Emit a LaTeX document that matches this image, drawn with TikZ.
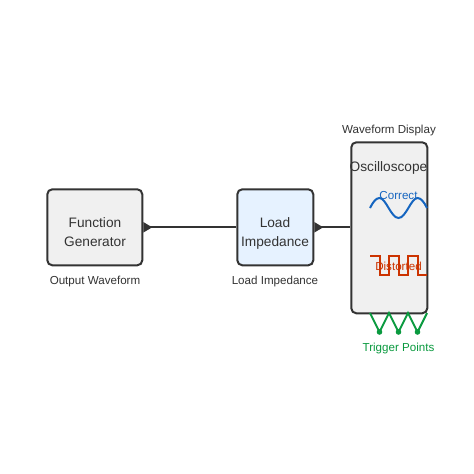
\documentclass[tikz,border=0pt]{standalone}
\usepackage{fontspec}
\setmainfont{Liberation Sans}
\usetikzlibrary{arrows.meta}
\definecolor{ink}{HTML}{333333}
\definecolor{boxgray}{HTML}{F0F0F0}
\definecolor{boxblue}{HTML}{E6F2FF}
\definecolor{wblue}{HTML}{1565C0}
\definecolor{wred}{HTML}{CC3300}
\definecolor{wgreen}{HTML}{0A9A3F}
\tikzset{
  block/.style={draw=ink,line width=2pt,rounded corners=5pt,fill=boxgray,inner sep=0pt,anchor=north west},
  maintext/.style={font=\fontsize{13.7}{18.5}\selectfont,text=ink,align=center,inner sep=0pt},
  caption/.style={font=\fontsize{11.6}{14}\selectfont,text=ink,inner sep=0pt},
  link/.style={draw=ink,line width=2pt,{Triangle[reversed,length=9pt,width=10pt]}-},
  wave/.style={line width=2pt,line join=miter}
}
\begin{document}
\begin{tikzpicture}[x=1pt,y=-1pt]
\useasboundingbox (0,0) rectangle (474,474);
\fill[white] (0,0) rectangle (474,474);
\node[block,minimum width=95pt,minimum height=76pt] (fg) at (46.3,188.3) {};
\node[block,fill=boxblue,minimum width=76pt,minimum height=76pt] (load) at (236.3,188.3) {};
\node[block,minimum width=76pt,minimum height=171pt] (scope) at (350.3,141.3) {};
\node[maintext] (fgt) at (95,232.2) {Function\\Generator};
\node[maintext] (loadt) at (275,233.7) {Load\\Impedance};
\node[maintext] (scopet) at (388.5,167.5) {Oscilloscope};
\node[caption] (c1) at (95,281.5) {Output Waveform};
\node[caption] (c2) at (275,281.5) {Load Impedance};
\node[caption] (c3) at (389,130) {Waveform Display};
\draw[link] (fg.east) -- (load.west);
\coordinate (sin) at (scope.west |- load.east);
\draw[link] (load.east) -- (sin);
\draw[wave,wblue] (370,208) .. controls (373,202) and (376,198) .. (379.5,198)
  .. controls (386,198) and (391,218) .. (398.5,218)
  .. controls (406,218) and (411,198) .. (417.5,198)
  .. controls (421,198) and (424,202) .. (427,208);
\node[caption,text=wblue] (cw) at (398.5,195.5) {Correct};
\draw[wave,wred] (370,256) -- (379.5,256) -- (379.5,275) -- (389,275) -- (389,256) -- (398.5,256) -- (398.5,275) -- (408,275) -- (408,256) -- (417.5,256) -- (417.5,275) -- (427,275);
\node[caption,text=wred] (dw) at (398.5,266.5) {Distorted};
\draw[wave,wgreen] (370,313) -- (379.5,332) -- (389,313) -- (398.5,332) -- (408,313) -- (417.5,332) -- (427,313);
\foreach \p in {379.5,398.5,417.5}{\fill[wgreen] (\p,332) circle (2.8pt);}
\node[caption,text=wgreen] (tp) at (398.5,348) {Trigger Points};
\end{tikzpicture}
\end{document}
